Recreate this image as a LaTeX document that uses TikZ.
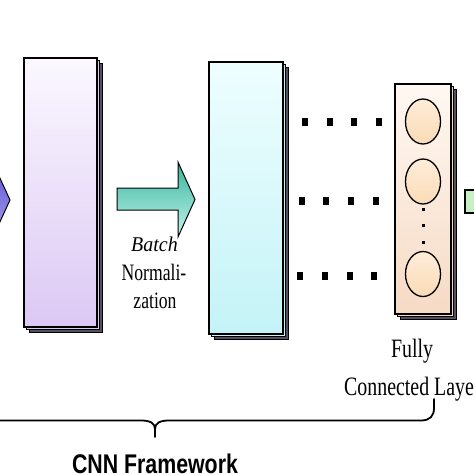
\documentclass[tikz,border=0pt]{standalone}
\usepackage{fontspec}
\setmainfont{Liberation Serif}
\newfontfamily\headfont{Liberation Sans}
\usetikzlibrary{shapes.geometric}
\definecolor{purpTop}{HTML}{FBF8FF}
\definecolor{purpBot}{HTML}{DCC8F4}
\definecolor{cyanTop}{HTML}{EEFEFF}
\definecolor{cyanBot}{HTML}{C4F3F7}
\definecolor{peachTop}{HTML}{FFF8F2}
\definecolor{peachBot}{HTML}{F6DAC4}
\definecolor{neurTop}{HTML}{FFEDD9}
\definecolor{neurBot}{HTML}{FADBB6}
\definecolor{tealTop}{HTML}{36B59D}
\definecolor{tealBot}{HTML}{C4F3EB}
\definecolor{arrPurpTop}{HTML}{5E52D2}
\definecolor{arrPurpBot}{HTML}{A7A0EE}
\definecolor{greenArr}{HTML}{C4F0C4}
\definecolor{shadowDark}{HTML}{55505F}
\tikzset{
  layerbox/.style={draw=black, line width=1.1pt, rectangle, inner sep=0pt},
  backlayer/.style={draw=black, line width=0.8pt, fill=shadowDark},
  midlayer/.style={draw=black, line width=0.7pt},
  dotsq/.style={fill=black, rectangle, inner sep=0pt, minimum width=5.6pt, minimum height=7.6pt},
  smalldot/.style={fill=black, rectangle, inner sep=0pt, minimum size=3pt},
  neuron/.style={ellipse, draw=black, line width=1.3pt, inner sep=0pt, minimum width=35pt, minimum height=45pt, top color=neurTop, bottom color=neurBot},
  bigarrow/.style={draw=black, line width=1pt},
  bracestyle/.style={line width=1.8pt, line cap=round, line join=round},
  lbl/.style={inner sep=0pt}
}
\begin{document}
\begin{tikzpicture}[x=1pt,y=-1pt]
\useasboundingbox (0,0) rectangle (474,474);
\clip (0,0) rectangle (474,474);
\fill[white] (0,0) rectangle (474,474);

% incoming purple arrow (cut at left edge)
\draw[bigarrow, top color=arrPurpTop, bottom color=arrPurpBot]
  (-40,188) -- (-7,188) -- (-7,163) -- (10,200) -- (-7,237) -- (-7,212) -- (-40,212) -- cycle;

% purple box (stacked)
\draw[backlayer] (29,63) rectangle (102,332);
\draw[midlayer, fill=purpBot] (26.5,60.5) rectangle (99.5,329.5);
\node[layerbox, top color=purpTop, bottom color=purpBot, minimum width=73pt, minimum height=269pt] (conv) at (60.5,192.5) {};

% teal arrow
\draw[bigarrow, top color=tealTop, bottom color=tealBot]
  (117,188) -- (178,188) -- (178,162) -- (195,199.5) -- (178,237) -- (178,210) -- (117,210) -- cycle;

% batch normalization label
\node[lbl, anchor=base] (batch) at (154.5,251) {\scalebox{0.95}[1]{\fontsize{21}{25}\selectfont\itshape Batch}};
\node[lbl, anchor=base] (norm1) at (154,280) {\scalebox{0.75}[1]{\fontsize{23.5}{28}\selectfont Normali-}};
\node[lbl, anchor=base] (norm2) at (155,308) {\scalebox{0.75}[1]{\fontsize{23.5}{28}\selectfont zation}};

% cyan box (stacked)
\draw[backlayer] (214,67) rectangle (288,339);
\draw[midlayer, fill=cyanBot] (211.5,64.5) rectangle (285.5,336.5);
\node[layerbox, top color=cyanTop, bottom color=cyanBot, minimum width=74pt, minimum height=272pt] (bn) at (246,198) {};

% dotted rows
\node[dotsq] (d11) at (305,122) {};
\node[dotsq] (d12) at (330,122) {};
\node[dotsq] (d13) at (354,122) {};
\node[dotsq] (d14) at (379,122) {};
\node[dotsq] (d21) at (302,201) {};
\node[dotsq] (d22) at (326,201) {};
\node[dotsq] (d23) at (351,201) {};
\node[dotsq] (d24) at (376,201) {};
\node[dotsq] (d31) at (300,276) {};
\node[dotsq] (d32) at (325,276) {};
\node[dotsq] (d33) at (350,276) {};
\node[dotsq] (d34) at (374,276) {};

% fully connected box (stacked)
\draw[backlayer] (400,89) rectangle (456,319);
\draw[midlayer, fill=peachBot] (397.5,86.5) rectangle (453.5,316.5);
\node[layerbox, top color=peachTop, bottom color=peachBot, minimum width=56pt, minimum height=230pt] (fc) at (423,199) {};

\node[neuron] (n1) at (423,121.5) {};
\node[neuron] (n2) at (423,181.5) {};
\node[neuron] (n3) at (423,274) {};
\node[smalldot] (v1) at (423,209) {};
\node[smalldot] (v2) at (423,225.5) {};
\node[smalldot] (v3) at (423,242) {};

% outgoing green arrow (cut at right edge)
\draw[line width=1.1pt, fill=greenArr] (465,190) -- (490,190) -- (490,213) -- (465,213) -- cycle;

% FC label
\node[lbl, anchor=base] (fully) at (412,357) {\scalebox{0.75}[1]{\fontsize{26.5}{32}\selectfont Fully}};
\node[lbl, anchor=base west] (connl) at (344,395) {\scalebox{0.75}[1]{\fontsize{26.5}{32}\selectfont Connected Layer}};

% brace
\coordinate (bl) at (-10,420.5);
\coordinate (bm) at (155,437);
\coordinate (br) at (434,399);
\draw[bracestyle] (bl) -- (141,420.5) .. controls (150,420.5) and (155,423) .. (155,429) -- (bm);
\draw[bracestyle] (155,429) .. controls (155,423) and (160,420.5) .. (169,420.5) -- (421,420.5) .. controls (430,420.5) and (434,416) .. (434,408) -- (br);

% CNN Framework
\node[lbl, anchor=base] (cnn) at (155,473) {\scalebox{0.79}[1]{\headfont\bfseries\fontsize{27}{32}\selectfont CNN Framework}};
\end{tikzpicture}
\end{document}
